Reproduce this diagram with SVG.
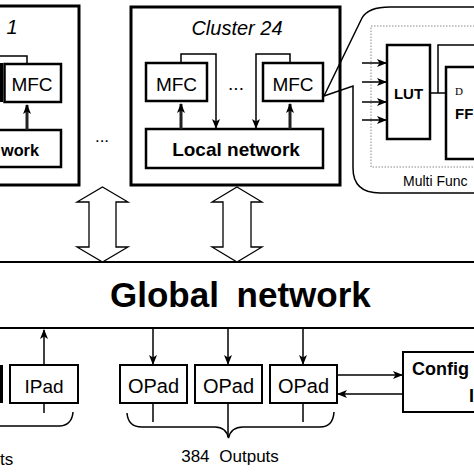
<svg xmlns="http://www.w3.org/2000/svg" width="474" height="474" viewBox="0 0 474 474">
<defs>
<marker id="ah" markerWidth="10" markerHeight="8" refX="9" refY="4" orient="auto" markerUnits="userSpaceOnUse"><path d="M0,0 L10,4 L0,8 L2.5,4 z" fill="#000"/></marker>
<style>
.box{fill:#fff;stroke:#000;stroke-width:2.5}
.cl{fill:#fff;stroke:#000;stroke-width:3}
.pad{fill:#fff;stroke:#000;stroke-width:2}
.ln{fill:none;stroke:#000;stroke-width:1.5}
.thk{fill:none;stroke:#222;stroke-width:3}
.hol{fill:#fff;stroke:#000;stroke-width:1.3;stroke-linejoin:miter}
.t{font-family:"Liberation Sans",Arial,Helvetica,sans-serif;fill:#000}
.b{font-weight:bold}
.i{font-style:italic}
.m{text-anchor:middle}
</style>
</defs>
<rect width="474" height="474" fill="#fff"/>

<g id="cluster1">
<rect class="cl" x="-20" y="6" width="99" height="179"/>
<text class="t i m" x="12" y="34" font-size="20">1</text>
<rect x="0" y="63" width="3" height="39" fill="#000"/>
<rect class="box" x="4.5" y="64" width="56.5" height="38"/>
<text class="t m" x="32" y="91" font-size="19">MFC</text>
<rect class="box" x="-20" y="130" width="81" height="37"/>
<text class="t b" x="39" y="156" font-size="16.3" text-anchor="end">work</text>
</g>

<g id="cluster24">
<rect class="cl" x="131" y="7" width="209" height="178"/>
<text class="t i m" x="237" y="35" font-size="20">Cluster 24</text>
<rect class="box" x="146" y="63" width="61" height="38"/>
<text class="t m" x="176.5" y="91" font-size="19">MFC</text>
<text class="t m" x="236" y="90" font-size="19">...</text>
<rect class="box" x="263" y="63" width="60" height="38"/>
<text class="t m" x="293" y="91" font-size="19">MFC</text>
<rect class="box" x="146" y="129" width="177" height="39"/>
<text class="t b m" x="236" y="156" font-size="19">Local network</text>
</g>

<g id="mfc-detail">
<path class="ln" d="M324,96 L362,18 Q368,7 390,7 L476,7"/>
<path class="ln" d="M324,96 L353,86 L353,168 Q353,193 380,193 L476,193"/>
<rect x="371" y="26" width="120" height="141" fill="none" stroke="#888" stroke-width="1" stroke-dasharray="1.5,1.5"/>
<rect class="box" x="387" y="45" width="43" height="94"/>
<text class="t b m" x="408.5" y="99" font-size="15">LUT</text>
<rect class="box" x="446" y="67" width="40" height="92"/>
<text x="455" y="95" font-size="11" font-family="'Liberation Serif','Times New Roman',serif">D</text>
<text class="t b" x="455" y="119" font-size="15">FF</text>
<text class="t" x="403" y="186" font-size="14">Multi Func</text>
</g>

<g id="global-network">
<line x1="0" y1="262" x2="474" y2="262" stroke="#000" stroke-width="2"/>
<line x1="0" y1="328" x2="474" y2="328" stroke="#000" stroke-width="2"/>
<text class="t b" x="110" y="307" font-size="35" word-spacing="8">Global network</text>
</g>

<g id="ipads">
<rect x="0" y="365" width="3" height="38" fill="#000"/>
<rect class="pad" x="10" y="365" width="68" height="38"/>
<text class="t m" x="44" y="393" font-size="19">IPad</text>
<text class="t" x="0" y="465" font-size="17">ts</text>
</g>

<g id="opads">
<rect class="pad" x="120" y="365" width="67" height="38"/>
<text class="t m" x="153.5" y="393" font-size="20">OPad</text>
<rect class="pad" x="195" y="365" width="67" height="38"/>
<text class="t m" x="228.5" y="393" font-size="20">OPad</text>
<rect class="pad" x="270" y="365" width="67" height="38"/>
<text class="t m" x="303.5" y="393" font-size="20">OPad</text>
<text class="t m" x="230" y="462" font-size="17" word-spacing="5">384 Outputs</text>
</g>

<g id="config">
<rect class="pad" x="403" y="352" width="90" height="60"/>
<text class="t b" x="412" y="375" font-size="18">Config</text>
<text class="t b" x="469" y="402" font-size="18">I</text>
</g>

<g id="connectors">
<polyline class="ln" points="0,56 27,56 27,64"/>
<line class="thk" x1="27" y1="130" x2="27" y2="105" marker-end="url(#ah)"/>
<polyline class="ln" points="181,63 181,54 216,54 216,128" marker-end="url(#ah)"/>
<polyline class="ln" points="290,63 290,54 256,54 256,128" marker-end="url(#ah)"/>
<line class="thk" x1="181" y1="129" x2="181" y2="104" marker-end="url(#ah)"/>
<line class="thk" x1="290" y1="129" x2="290" y2="104" marker-end="url(#ah)"/>
<line class="ln" x1="362" y1="63" x2="386" y2="63" marker-end="url(#ah)"/>
<line class="ln" x1="362" y1="82" x2="386" y2="82" marker-end="url(#ah)"/>
<line class="ln" x1="362" y1="102" x2="386" y2="102" marker-end="url(#ah)"/>
<line class="ln" x1="362" y1="120" x2="386" y2="120" marker-end="url(#ah)"/>
<polyline class="ln" points="430,93 446,93"/>
<polyline class="ln" points="438,93 438,45 476,45"/>
<text class="t m" x="102" y="142" font-size="17">...</text>
<polygon class="hol" points="102.5,187 128,202 116,202 116,247 128,247 102.5,262 77,247 89,247 89,202 77,202"/>
<polygon class="hol" points="237,187 262,202 251,202 251,247 262,247 237,262 212,247 223,247 223,202 212,202"/>
<line class="ln" x1="44" y1="365" x2="44" y2="330" marker-end="url(#ah)"/>
<line class="ln" x1="44" y1="403" x2="44" y2="413"/>
<path class="ln" d="M0,426 L60,426 Q72,425 73,412"/>
<line class="ln" x1="153" y1="329" x2="153" y2="364" marker-end="url(#ah)"/>
<line class="ln" x1="228" y1="329" x2="228" y2="364" marker-end="url(#ah)"/>
<line class="ln" x1="303" y1="329" x2="303" y2="364" marker-end="url(#ah)"/>
<line class="ln" x1="153" y1="403" x2="153" y2="422"/>
<line class="ln" x1="228" y1="403" x2="228" y2="437"/>
<line class="ln" x1="303" y1="403" x2="303" y2="422"/>
<path class="ln" d="M127,413 Q128,427 142,427 L215,427 Q226,427 228.5,438 Q231,427 243,427 L320,427 Q333,427 334,412"/>
<line class="ln" x1="337" y1="375" x2="402" y2="375" marker-end="url(#ah)"/>
<line class="ln" x1="403" y1="394" x2="338" y2="394" marker-end="url(#ah)"/>
</g>
</svg>
